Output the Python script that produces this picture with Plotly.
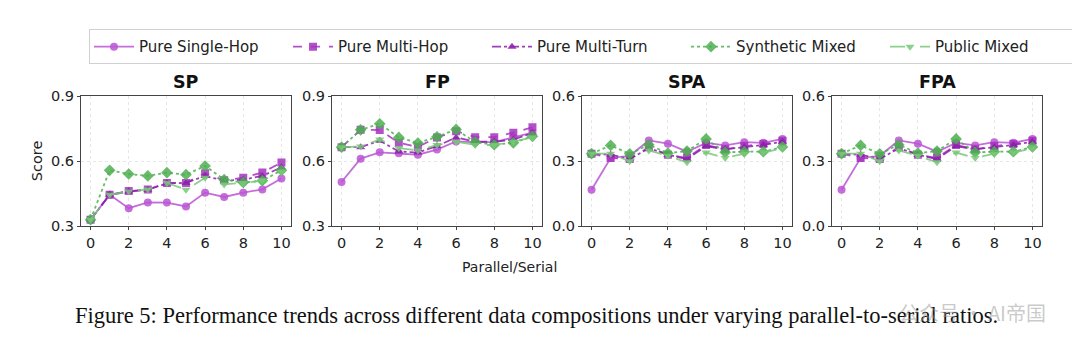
import plotly.graph_objects as go

x_vals = list(range(11))
panels = ["SP", "FP", "SPA", "FPA"]
series_names = ["Pure Single-Hop", "Pure Multi-Hop", "Pure Multi-Turn", "Synthetic Mixed", "Public Mixed"]

sp_single = [0.33, 0.445, 0.383, 0.41, 0.409, 0.391, 0.455, 0.435, 0.455, 0.47, 0.52]
sp_mhop = [0.33, 0.445, 0.462, 0.469, 0.50, 0.50, 0.545, 0.512, 0.524, 0.548, 0.594]
sp_mturn = [0.33, 0.445, 0.46, 0.468, 0.498, 0.50, 0.532, 0.51, 0.515, 0.532, 0.572]
sp_synth = [0.33, 0.558, 0.541, 0.532, 0.547, 0.538, 0.578, 0.515, 0.502, 0.51, 0.558]
sp_public = [0.33, 0.445, 0.46, 0.47, 0.50, 0.468, 0.524, 0.493, 0.50, 0.51, 0.55]

fp_single = [0.504, 0.612, 0.641, 0.637, 0.63, 0.654, 0.691, 0.688, 0.688, 0.71, 0.732]
fp_mhop = [0.665, 0.745, 0.744, 0.685, 0.666, 0.71, 0.739, 0.711, 0.711, 0.732, 0.757]
fp_mturn = [0.665, 0.665, 0.695, 0.645, 0.64, 0.67, 0.71, 0.69, 0.69, 0.70, 0.73]
fp_synth = [0.665, 0.745, 0.773, 0.71, 0.684, 0.713, 0.747, 0.688, 0.676, 0.685, 0.715]
fp_public = [0.665, 0.668, 0.70, 0.66, 0.65, 0.675, 0.69, 0.675, 0.675, 0.69, 0.71]

spa_single = [0.168, 0.315, 0.325, 0.396, 0.381, 0.344, 0.385, 0.373, 0.388, 0.385, 0.403]
spa_mhop = [0.335, 0.315, 0.31, 0.365, 0.33, 0.315, 0.375, 0.355, 0.37, 0.38, 0.395]
spa_mturn = [0.335, 0.33, 0.31, 0.36, 0.33, 0.31, 0.37, 0.355, 0.365, 0.375, 0.39]
spa_synth = [0.335, 0.373, 0.334, 0.376, 0.337, 0.347, 0.403, 0.341, 0.344, 0.344, 0.366]
spa_public = [0.335, 0.335, 0.30, 0.35, 0.325, 0.295, 0.34, 0.315, 0.335, 0.34, 0.36]

fpa_single = [0.168, 0.315, 0.325, 0.396, 0.381, 0.344, 0.385, 0.373, 0.388, 0.385, 0.403]
fpa_mhop = [0.335, 0.315, 0.31, 0.365, 0.33, 0.315, 0.375, 0.355, 0.37, 0.38, 0.395]
fpa_mturn = [0.335, 0.33, 0.31, 0.36, 0.33, 0.31, 0.37, 0.355, 0.365, 0.375, 0.39]
fpa_synth = [0.335, 0.373, 0.334, 0.376, 0.337, 0.347, 0.403, 0.341, 0.344, 0.344, 0.366]
fpa_public = [0.335, 0.335, 0.30, 0.35, 0.325, 0.295, 0.34, 0.315, 0.335, 0.34, 0.36]

panel_data = [
    [sp_single, sp_mhop, sp_mturn, sp_synth, sp_public],
    [fp_single, fp_mhop, fp_mturn, fp_synth, fp_public],
    [spa_single, spa_mhop, spa_mturn, spa_synth, spa_public],
    [fpa_single, fpa_mhop, fpa_mturn, fpa_synth, fpa_public],
]
y_ranges = [[0.3, 0.9], [0.3, 0.9], [0.0, 0.6], [0.0, 0.6]]
y_ticks = [[0.3, 0.6, 0.9], [0.3, 0.6, 0.9], [0.0, 0.3, 0.6], [0.0, 0.3, 0.6]]
x_ticks = [0, 2, 4, 6, 8, 10]

colors = ["rgba(186,85,211,0.85)", "rgba(166,50,190,0.85)", "rgba(140,30,170,0.85)",
          "rgba(76,175,80,0.85)", "rgba(120,200,120,0.85)"]
dashes = ["solid", "dash", "dashdot", "dot", "longdash"]
symbols = ["circle", "square", "triangle-up", "diamond", "triangle-down"]
msizes = [8, 8, 8, 9, 8]

# page body has an 8px margin; positions below are in figure pixels
W, H = 1080, 359
px_left = [73, 324, 574, 824]
px_w = 210
px_top, px_bot = 84, 220

FONT = "DejaVu Sans"
fig = go.Figure()
layout_axes = {}
for i, pname in enumerate(panels):
    xa = "x" if i == 0 else f"x{i+1}"
    ya = "y" if i == 0 else f"y{i+1}"
    for s, sname in enumerate(series_names):
        fig.add_trace(go.Scatter(
            x=x_vals, y=panel_data[i][s], name=sname, mode="lines+markers",
            xaxis=xa, yaxis=ya, showlegend=(i == 0), legendgroup=sname,
            line=dict(color=colors[s], width=1.8, dash=dashes[s]),
            marker=dict(symbol=symbols[s], size=msizes[s], color=colors[s]),
        ))
    common = dict(showline=True, linecolor="#444", linewidth=1.2, mirror=True,
                  ticks="outside", ticklen=3, tickcolor="#444",
                  showgrid=True, gridcolor="#e6e6e6", griddash="dot", gridwidth=1,
                  zeroline=False, tickfont=dict(family=FONT, size=14.5, color="#222"))
    layout_axes["xaxis" if i == 0 else f"xaxis{i+1}"] = dict(
        common, domain=[px_left[i] / W, (px_left[i] + px_w) / W], range=[-0.5, 10.5],
        tickvals=x_ticks, anchor=ya)
    layout_axes["yaxis" if i == 0 else f"yaxis{i+1}"] = dict(
        common, domain=[1 - px_bot / H, 1 - px_top / H], range=y_ranges[i],
        tickvals=y_ticks[i], tickformat=".1f", anchor=xa)

fig.update_layout(**layout_axes)

annotations = []
for i, pname in enumerate(panels):
    annotations.append(dict(text=f"<b>{pname}</b>", x=(px_left[i] + px_w / 2) / W, y=1 - (px_top - 2) / H,
                            xref="paper", yref="paper", xanchor="center", yanchor="bottom",
                            showarrow=False, font=dict(family=FONT, size=17.5, color="#111")))
annotations.append(dict(text="Score", x=29 / W, y=1 - 152 / H, xref="paper", yref="paper",
                        textangle=-90, showarrow=False, xanchor="center", yanchor="middle",
                        font=dict(family=FONT, size=14.5, color="#222")))
annotations.append(dict(text="Parallel/Serial", x=501 / W, y=1 - 263 / H, xref="paper", yref="paper",
                        showarrow=False, xanchor="center", yanchor="middle",
                        font=dict(family=FONT, size=14, color="#222")))
annotations.append(dict(text="Figure 5: Performance trends across different data compositions under varying parallel-to-serial ratios.",
                        x=528 / W, y=1 - 313 / H, xref="paper", yref="paper",
                        showarrow=False, xanchor="center", yanchor="middle",
                        font=dict(family="Liberation Serif", size=22.5, color="#111")))
annotations.append(dict(text="公众号 · AI帝国", x=1040 / W, y=1 - 310 / H, xref="paper", yref="paper",
                        showarrow=False, xanchor="right", yanchor="middle",
                        font=dict(family="Noto Sans CJK SC", size=20, color="rgba(150,150,150,0.5)")))

fig.update_layout(
    width=W, height=H, autosize=False, margin=dict(l=0, r=0, t=0, b=0),
    paper_bgcolor="white", plot_bgcolor="white",
    annotations=annotations,
    legend=dict(orientation="h", x=81 / W, y=1 - 14 / H, xanchor="left", yanchor="top",
                bordercolor="#d0d0d0", borderwidth=1, bgcolor="white",
                entrywidth=144, entrywidthmode="pixels",
                font=dict(family=FONT, size=15, color="#222"), itemwidth=40),
    showlegend=True,
)

fig.write_html("out.html", config={"responsive": False, "displayModeBar": False})
